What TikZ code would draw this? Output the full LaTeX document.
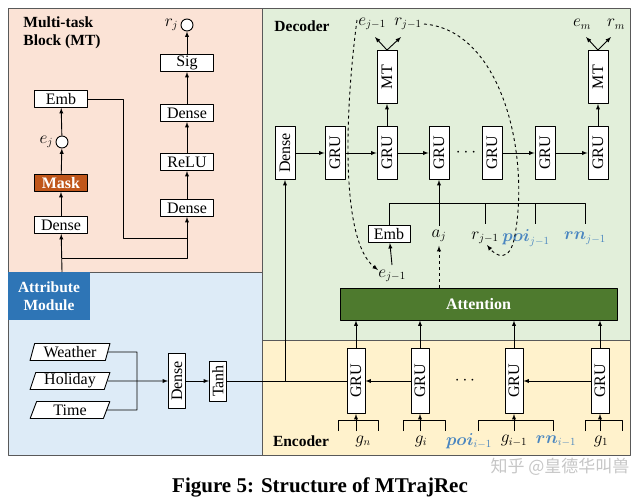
\documentclass[tikz,border=0pt]{standalone}
\usepackage{bm}
\usepackage{fontspec}
\setmainfont{Liberation Serif}
\newfontfamily\cjk{Noto Sans CJK SC}
\usetikzlibrary{shapes.geometric}
\definecolor{mtbg}{HTML}{FBE3D6}
\definecolor{attbg}{HTML}{DDEBF7}
\definecolor{decbg}{HTML}{E2EFDA}
\definecolor{encbg}{HTML}{FFF2CC}
\definecolor{maskc}{HTML}{C0561A}
\definecolor{attnc}{HTML}{4E7A2E}
\definecolor{modc}{HTML}{2E75B6}
\definecolor{poic}{HTML}{4A86C0}

\begin{document}
\begin{tikzpicture}[x=1pt,y=-1pt,line join=round,>=latex,line width=0.9pt,
    font=\fontsize{16}{18}\selectfont,
    box/.style={draw,fill=white,inner sep=1pt,minimum width=53pt,minimum height=17pt},
    vbox/.style={draw,fill=white,inner sep=1pt,minimum width=20pt,minimum height=53pt},
    para/.style={draw,fill=white,trapezium,trapezium left angle=75,trapezium right angle=105,
        inner sep=1pt,minimum width=80pt,minimum height=17pt,trapezium stretches=true},
    dot/.style={draw,fill=white,circle,minimum size=12pt,inner sep=0pt},
    blue/.style={text=poic}]
    \useasboundingbox (0,0) rectangle (641,501);

    % Panels
    \fill[mtbg] (8,8) rectangle (262,272);
    \fill[attbg] (8,272) rectangle (262,455);
    \fill[decbg] (262,8) rectangle (630,340);
    \fill[encbg] (262,340) rectangle (630,455);
    \draw[gray!70!black] (8,8) rectangle (630,455);
    \draw[gray!70!black] (262,8) -- (262,455) (8,272) -- (262,272) (262,340) -- (630,340);
    \fill[modc] (8,272) rectangle (90,320);
    \node[text=white,font=\fontsize{15.5}{18}\selectfont\bfseries,align=center] (attlbl) at (49,296) {Attribute\\Module};
    \node[font=\fontsize{15.5}{18}\selectfont\bfseries,align=left] (mtlbl) at (62,33) {Multi-task\\Block (MT)};
    \node[font=\fontsize{15.5}{18}\selectfont\bfseries] (declbl) at (302,26) {Decoder};
    \node[font=\fontsize{15.5}{18}\selectfont\bfseries] (enclbl) at (301,441) {Encoder};

    % Multi-task block
    \node[box] (emb) at (61,99) {Emb};
    \node[dot,label={[inner sep=2pt]left:$e_j$}] (ej) at (62,142) {};
    \node[box,fill=maskc,text=white,font=\fontsize{16}{18}\selectfont\bfseries] (mask) at (61,183) {Mask};
    \node[box] (dnsa) at (61,225) {Dense};
    \node[dot,label={[inner sep=2pt]left:$r_j$}] (rj) at (187,25) {};
    \node[box] (sig) at (187,63) {Sig};
    \node[box] (dnsc) at (187,113) {Dense};
    \node[box] (relu) at (187,162) {ReLU};
    \node[box] (dnsb) at (187,208) {Dense};
    \coordinate (mtin) at (62,272);
    \draw[->] (mtin) -- (dnsa);
    \draw[->] (dnsa) -- (mask);
    \draw[->] (mask) -- (ej);
    \draw[->] (ej) -- (emb);
    \draw[->] (62,258) -| (dnsb);
    \draw (emb.east) -| (123,238) -- (187,238);
    \draw[->] (dnsb) -- (relu);
    \draw[->] (relu) -- (dnsc);
    \draw[->] (dnsc) -- (sig);
    \draw[->] (sig) -- (rj);

    % Attribute module
    \node[para] (wea) at (70,352) {Weather};
    \node[para] (hol) at (70,381) {Holiday};
    \node[para] (tim) at (70,410) {Time};
    \node[vbox,minimum height=55pt,minimum width=17pt] (adns) at (177,381) {\rotatebox{90}{Dense}};
    \node[vbox,minimum height=40pt,minimum width=17pt] (tanh) at (218,381) {\rotatebox{90}{Tanh}};
    \draw (wea.east) -| (137,410) -- (tim.east);
    \draw[->] (hol.east) -- (adns);
    \draw[->] (adns) -- (tanh);

    % Encoder
    \node[vbox,minimum height=65pt,minimum width=18pt] (egn) at (356,381) {\rotatebox{90}{GRU}};
    \node[vbox,minimum height=65pt,minimum width=18pt] (egi) at (420,381) {\rotatebox{90}{GRU}};
    \node (edots) at (465,381) {$\cdots$};
    \node[vbox,minimum height=65pt,minimum width=18pt] (egk) at (514,381) {\rotatebox{90}{GRU}};
    \node[vbox,minimum height=65pt,minimum width=18pt] (ego) at (600,381) {\rotatebox{90}{GRU}};
    \draw[->] (egi) -- (egn);
    \draw[->] (ego) -- (egk);
    \node[draw,fill=attnc,text=white,minimum width=277pt,minimum height=32pt,
        font=\fontsize{16}{18}\selectfont\bfseries] (attn) at (478.5,304) {Attention};
    \foreach \g in {egn,egi,egk,ego}
        \draw[->] (\g.north) -- (\g.north |- attn.south);
    \node (ign) at (363,441) {$g_n$};
    \node (igi) at (421,441) {$g_i$};
    \node[blue] (ipoi) at (469,441) {$\bm{poi}_{i-1}$};
    \node (igk) at (514,441) {$g_{i-1}$};
    \node[blue] (irn) at (556,441) {$\bm{rn}_{i-1}$};
    \node (igo) at (601,441) {$g_1$};
    \foreach \g/\a/\b in {egn/338/378,egi/403/445,egk/478/553,ego/585/622}{
        \draw (\a,431) -- (\a,420) -- (\b,420) -- (\b,431);
        \draw[->] (\g.south |- 0,431) -- (\g.south);
    }

    % Decoder
    \node[vbox] (ddns) at (285,153) {\rotatebox{90}{Dense}};
    \node[vbox] (dg1) at (335,153) {\rotatebox{90}{GRU}};
    \node[vbox] (dg2) at (387,153) {\rotatebox{90}{GRU}};
    \node[vbox] (dg3) at (439,153) {\rotatebox{90}{GRU}};
    \node (ddots) at (466,153) {$\cdots$};
    \node[vbox] (dg4) at (492,153) {\rotatebox{90}{GRU}};
    \node[vbox] (dg5) at (545,153) {\rotatebox{90}{GRU}};
    \node[vbox] (dg6) at (598,153) {\rotatebox{90}{GRU}};
    \node[vbox] (mta) at (387,77) {\rotatebox{90}{MT}};
    \node[vbox] (mtb) at (598,77) {\rotatebox{90}{MT}};
    \draw[->] (ddns) -- (dg1);
    \draw[->] (dg1) -- (dg2);
    \draw[->] (dg2) -- (dg3);
    \draw[->] (dg4) -- (dg5);
    \draw[->] (dg5) -- (dg6);
    \draw[->] (dg2) -- (mta);
    \draw[->] (dg6) -- (mtb);
    \node (oea) at (372,24) {$e_{j-1}$};
    \node (ora) at (408,24) {$r_{j-1}$};
    \node (oeb) at (582,24) {$e_m$};
    \node (orb) at (616,24) {$r_m$};
    \draw[->] (mta.north) -- (375,37);
    \draw[->] (mta.north) -- (401,37);
    \draw[->] (mtb.north) -- (586,37);
    \draw[->] (mtb.north) -- (611,37);
    \draw[->] (tanh) -- (egn.west -| ddns) -- (ddns);
    \draw (egn) -- (egn.west -| ddns);

    % Decoder inputs
    \node[box,minimum width=42pt] (demb) at (389,234) {Emb};
    \node (iaj) at (439,236) {$a_j$};
    \node (irj) at (485,238) {$r_{j-1}$};
    \node[blue] (ipj) at (526,238) {$\bm{poi}_{j-1}$};
    \node[blue] (irnj) at (585,238) {$\bm{rn}_{j-1}$};
    \node (iej) at (392,276) {$e_{j-1}$};
    \draw (demb) -- (389,203) -- (585,203) -- (585,224);
    \draw (485,203) -- (485,224);
    \draw (535,203) -- (535,224);
    \draw[->] (iaj) -- (dg3);
    \draw[->] (392,265) -- (demb);
    \draw[->,dashed] (attn.north -| iaj) -- (iaj);
    \draw[->,dashed] (357,20) .. controls (345,110) and (340,240) .. (378,270);
    \draw[->,dashed] (424,24) .. controls (500,30) and (530,150) .. (515,235)
        .. controls (510,265) and (495,255) .. (487,245);

    % Caption
    \node[font=\fontsize{21}{24}\selectfont\bfseries] (cap) at (320,487) {Figure 5: Structure of MTrajRec};
    \node[text=gray!45,font=\cjk\fontsize{17}{19}\selectfont] (wm) at (560,467) {知乎 @皇德华叫兽};
\end{tikzpicture}
\end{document}
